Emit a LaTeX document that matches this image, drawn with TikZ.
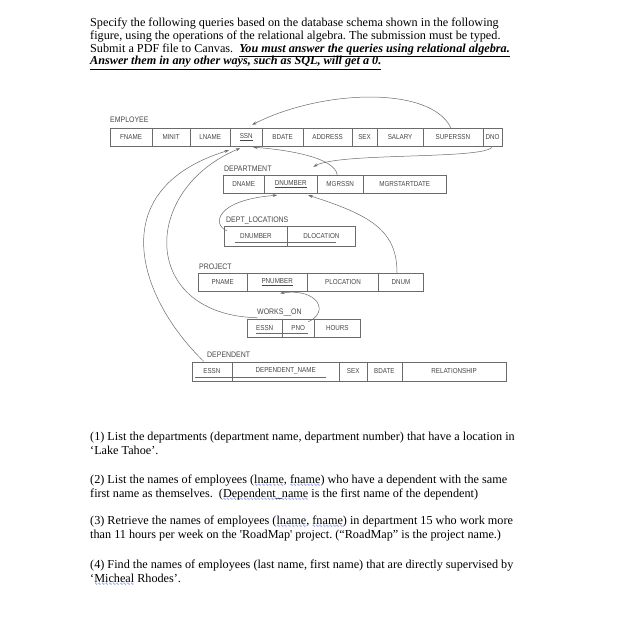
\documentclass[tikz,border=0pt]{standalone}
\usepackage{fontspec}
\setmainfont{Liberation Serif}
\newfontfamily\schemafont[FakeStretch=0.87]{Liberation Sans}
\newfontfamily\wavefont{DejaVu Sans}
\usepackage{tikz}
\usetikzlibrary{arrows.meta}
\usepackage{xcolor}
\definecolor{schemaline}{gray}{0.42}
\definecolor{schematext}{gray}{0.28}
\definecolor{spellblue}{RGB}{40,60,220}
% wavy spelling mark under a word
\newcommand\spellerr[1]{\setbox0\hbox{#1}\rlap{\raisebox{-3.2pt}{\textcolor{spellblue}{\hbox to \wd0{\wavefont\fontsize{4}{4}\selectfont\xleaders\hbox{∿}\hfill}}}}\box0{}}
\frenchspacing

\begin{document}
\begin{tikzpicture}[x=1pt,y=-1pt,
  cell/.style={rectangle,draw=schemaline,anchor=west,inner sep=0pt,minimum height=18pt,text=schematext,font=\schemafont\fontsize{7.2}{8}\selectfont},
  tname/.style={anchor=base west,inner sep=0pt,text=schematext,font=\schemafont\fontsize{8}{9}\selectfont},
  fk/.style={draw=schemaline,line width=0.5pt,-{Stealth[length=4.5pt,width=3pt]}},
  keyline/.style={draw=schemaline,line width=0.4pt},
  txt/.style={anchor=base west,inner sep=0pt,font=\fontsize{12.2}{14}\selectfont}]
\fill[white] (0,0) rectangle (617,616);
\useasboundingbox (0,0) rectangle (617,616);

% task text
\node[txt] (intro1) at (90,26.5) {Specify the following queries based on the database schema shown in the following};
\node[txt] (intro2) at (90,39.3) {figure, using the operations of the relational algebra. The submission must be typed.};
\node[txt] (intro3) at (90,52) {Submit a PDF file to Canvas.\ \ \underline{\textbf{\textit{You must answer the queries using relational algebra.}}}};
\node[txt] (intro4) at (90,64.8) {\underline{\textbf{\textit{Answer them in any other ways, such as SQL, will get a 0.}}}};

% EMPLOYEE
\node[tname] (employee) at (110,122) {EMPLOYEE};
\node[cell,minimum width=41.7pt] (fname) at (110,137) {FNAME};
\node[cell,minimum width=38.3pt] (minit) at (151.7,137) {MINIT};
\node[cell,minimum width=40pt] (lname) at (190,137) {LNAME};
\node[cell,minimum width=32pt] (ssn) at (230,137) {\underline{SSN}};
\node[cell,minimum width=41pt] (bdate) at (262,137) {BDATE};
\node[cell,minimum width=48.7pt] (address) at (303,137) {ADDRESS};
\node[cell,minimum width=25.3pt] (sex) at (351.7,137) {SEX};
\node[cell,minimum width=45.7pt] (salary) at (377,137) {SALARY};
\node[cell,minimum width=60pt] (superssn) at (422.7,137) {SUPERSSN};
\node[cell,minimum width=19.3pt] (dno) at (482.7,137) {DNO};

% DEPARTMENT
\node[tname] (department) at (224,171) {DEPARTMENT};
\node[cell,minimum width=41pt] (dname) at (223,184) {DNAME};
\node[cell,minimum width=53pt] (dnumber) at (264,184) {\underline{DNUMBER}};
\node[cell,minimum width=46pt] (mgrssn) at (317,184) {MGRSSN};
\node[cell,minimum width=83pt] (mgrstartdate) at (363,184) {MGRSTARTDATE};

% DEPT_LOCATIONS
\node[tname] (deptlocations) at (226,222.5) {DEPT\_LOCATIONS};
\node[cell,minimum width=63.3pt,minimum height=20pt] (dlnumber) at (224,236) {DNUMBER};
\node[cell,minimum width=67.7pt,minimum height=20pt] (dlocation) at (287.3,236) {DLOCATION};
\draw[keyline] ([xshift=11pt,yshift=4.5pt]dlnumber.south west) -- ([xshift=-19pt,yshift=4.5pt]dlocation.south east);

% PROJECT
\node[tname] (project) at (199,269.5) {PROJECT};
\node[cell,minimum width=48.4pt] (pname) at (198.3,282) {PNAME};
\node[cell,minimum width=60.6pt] (pnumber) at (246.7,282) {\underline{PNUMBER}};
\node[cell,minimum width=71pt] (plocation) at (307.3,282) {PLOCATION};
\node[cell,minimum width=45pt] (dnum) at (378.3,282) {DNUM};

% WORKS_ON
\node[tname] (workson) at (257,314.5) {WORKS\_\_ON};
\node[cell,minimum width=34.4pt] (wessn) at (247.3,328) {ESSN};
\node[cell,minimum width=32.6pt] (pno) at (281.7,328) {PNO};
\node[cell,minimum width=45.7pt] (hours) at (314.3,328) {HOURS};
\draw[keyline] ([xshift=8.7pt,yshift=4pt]wessn.south west) -- ([xshift=-7pt,yshift=4pt]pno.south east);

% DEPENDENT
\node[tname] (dependent) at (207,357.5) {DEPENDENT};
\node[cell,minimum width=40pt,minimum height=19pt] (dessn) at (191.7,371.2) {ESSN};
\node[cell,minimum width=107.6pt,minimum height=19pt] (depname) at (231.7,371.2) {DEPENDENT\_NAME};
\node[cell,minimum width=27.4pt,minimum height=19pt] (dsex) at (339.3,371.2) {SEX};
\node[cell,minimum width=35pt,minimum height=19pt] (dbdate) at (366.7,371.2) {BDATE};
\node[cell,minimum width=104.3pt,minimum height=19pt] (relationship) at (401.7,371.2) {RELATIONSHIP};
\draw[keyline] ([xshift=3.3pt,yshift=4pt]dessn.south west) -- ([xshift=-13.3pt,yshift=4pt]depname.south east);

% referential links
\draw[fk] ([xshift=-2pt]superssn.north) .. controls (430,85) and (320,90) .. ([xshift=6pt,yshift=3pt]ssn.north);
\draw[fk] ([xshift=-3pt]mgrssn.north) .. controls (335,158) and (290,150) .. ([xshift=7pt,yshift=-1pt]ssn.south);
\draw[fk] (dno.south) .. controls (490,160) and (340,152) .. ([xshift=-4pt,yshift=8pt]dnumber.north east);
\draw[fk] ([xshift=-8pt]dessn.north) .. controls (140,300) and (100,190) .. ([xshift=-1pt,yshift=-4pt]ssn.south west);
\draw[fk] ([xshift=-7pt,yshift=1pt]wessn.north) .. controls (140,315) and (140,190) .. ([xshift=-6pt,yshift=-2pt]ssn.south);
\draw[fk] ([xshift=3pt,yshift=-5pt]dlnumber.north west) .. controls (212,225) and (215,200) .. ([xshift=-13.5pt,yshift=-2pt]dnumber.south);
\draw[fk] ([xshift=-4pt]dnum.north) .. controls (397,230) and (370,215) .. ([xshift=17.5pt,yshift=-2pt]dnumber.south);
\draw[fk] ([xshift=10pt,yshift=-3pt]pno.north) .. controls (330,312) and (318,288) .. ([xshift=3pt,yshift=-2pt]pnumber.south);

% questions
\node[txt] (q1a) at (90,440) {(1) List the departments (department name, department number) that have a location in};
\node[txt] (q1b) at (90,454) {‘Lake Tahoe’.};
\node[txt] (q2a) at (90,483.5) {(2) List the names of employees (\spellerr{lname}, \spellerr{fname}) who have a dependent with the same};
\node[txt] (q2b) at (90,497.5) {first name as themselves.\ \ (\spellerr{Dependent\_name} is the first name of the dependent)};
\node[txt] (q3a) at (90,524.5) {(3) Retrieve the names of employees (\spellerr{lname}, \spellerr{fname}) in department 15 who work more};
\node[txt] (q3b) at (90,538.5) {than 11 hours per week on the \textquotesingle RoadMap\textquotesingle{} project. (“RoadMap” is the project name.)};
\node[txt] (q4a) at (90,568.5) {(4) Find the names of employees (last name, first name) that are directly supervised by};
\node[txt] (q4b) at (90,582.5) {‘\spellerr{Micheal} Rhodes’.};
\end{tikzpicture}
\end{document}
